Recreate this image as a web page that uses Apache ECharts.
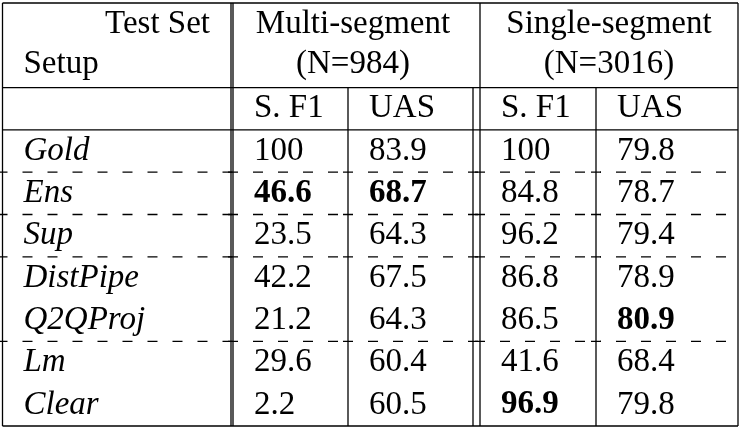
<!DOCTYPE html>
<html>
<head>
<meta charset="utf-8">
<script src="https://cdn.jsdelivr.net/npm/echarts@6/dist/echarts.min.js"></script>
<style>
  html, body { margin: 0; padding: 0; background: #fff; }
  #chart { width: 741px; height: 432px; }
</style>
</head>
<body>
<div id="chart"></div>
<script>
// table content
const methods = ["Gold", "Ens", "Sup", "DistPipe", "Q2QProj", "Lm", "Clear"];
const multiF1 = [100, 46.6, 23.5, 42.2, 21.2, 29.6, 2.2];
const multiUAS = [83.9, 68.7, 64.3, 67.5, 64.3, 60.4, 60.5];
const singleF1 = [100, 84.8, 96.2, 86.8, 86.5, 41.6, 96.9];
const singleUAS = [79.8, 78.7, 79.4, 78.9, 80.9, 68.4, 79.8];
const cornerLabels = ["Test Set", "Setup"];
const groupLabels = [["Multi-segment", "(N=984)"], ["Single-segment", "(N=3016)"]];
const metricLabels = ["S. F1", "UAS", "S. F1", "UAS"];
// best result per column: [method, column index]
const bestCells = [["Ens", 0], ["Ens", 1], ["Clear", 2], ["Q2QProj", 3]];
// a dashed rule follows these rows
const groupEnds = ["Gold", "Ens", "Sup", "Q2QProj"];

// layout (x in axis units, rows in y units)
const LEFT = 2.5, RIGHT = 738;
const COL0_R = 231, COL1_L = 233, COL2_L = 348, COL2_R = 473, COL3_L = 480, COL4_L = 596;
const PAD = 21;
const HEAD_ROWS = 3;
const NROWS = HEAD_ROWS + methods.length;
const HEAD_Y = [0.51, 1.455];
const FONT = "'Liberation Serif', 'Times New Roman', serif";
const FS = 33;

const valueCols = [multiF1, multiUAS, singleF1, singleUAS];
const colLeft = [COL1_L, COL2_L, COL3_L, COL4_L];

const cells = [];
cells.push({ x: COL0_R - PAD, y: HEAD_Y[0], text: cornerLabels[0], align: "right" });
cells.push({ x: LEFT + PAD, y: HEAD_Y[1], text: cornerLabels[1], align: "left" });
groupLabels.forEach((g, i) => {
  const mid = i === 0 ? (COL1_L + COL2_R) / 2 : (COL3_L + RIGHT) / 2;
  cells.push({ x: mid, y: HEAD_Y[0], text: g[0], align: "center" });
  cells.push({ x: mid, y: HEAD_Y[1], text: g[1], align: "center" });
});
metricLabels.forEach((m, c) => {
  cells.push({ x: colLeft[c] + PAD, y: 2.5, text: m, align: "left" });
});
methods.forEach((name, r) => {
  const y = HEAD_ROWS + r + 0.5;
  cells.push({ x: LEFT + PAD, y: y, text: name, align: "left", italic: true });
  valueCols.forEach((col, c) => {
    const bold = bestCells.some((b) => b[0] === name && b[1] === c);
    cells.push({ x: colLeft[c] + PAD, y: y, text: String(col[r]), align: "left", bold: bold });
  });
});

// rules
const rules = [];
[0, 2, HEAD_ROWS, NROWS].forEach((y) => rules.push({ x1: LEFT, y1: y, x2: RIGHT, y2: y }));
[LEFT, COL0_R, COL1_L, COL3_L, RIGHT].forEach((x) => rules.push({ x1: x, y1: 0, x2: x, y2: NROWS }));
[COL2_L, COL2_R, COL4_L].forEach((x) => rules.push({ x1: x, y1: 2, x2: x, y2: NROWS }));
const spans = [[LEFT, COL0_R], [COL1_L, COL2_L], [COL2_L, COL2_R], [COL3_L, COL4_L], [COL4_L, RIGHT]];
groupEnds.forEach((name) => {
  const y = HEAD_ROWS + methods.indexOf(name) + 1;
  spans.forEach((s) => rules.push({ x1: s[0] - 5, y1: y, x2: s[1] + 5, y2: y, dashed: true }));
});

const chart = echarts.init(document.getElementById("chart"));
chart.setOption({
  animation: false,
  backgroundColor: "#fff",
  grid: { left: 0, right: 0, top: 3, bottom: 6 },
  xAxis: { type: "value", min: 0, max: 741, show: false },
  yAxis: { type: "value", min: 0, max: NROWS, inverse: true, show: false },
  series: [
    {
      type: "custom",
      silent: true,
      clip: false,
      data: rules.map((l) => [l.x1, l.y1, l.x2, l.y2]),
      encode: { x: [0, 2], y: [1, 3] },
      renderItem: function (params, api) {
        const l = rules[params.dataIndex];
        const p1 = api.coord([api.value(0), api.value(1)]);
        const p2 = api.coord([api.value(2), api.value(3)]);
        return {
          type: "line",
          shape: { x1: p1[0], y1: p1[1], x2: p2[0], y2: p2[1] },
          style: {
            stroke: "#000",
            lineWidth: 1.3,
            lineDash: l.dashed ? [10, 15] : null
          }
        };
      }
    },
    {
      type: "custom",
      silent: true,
      clip: false,
      data: cells.map((c) => [c.x, c.y]),
      renderItem: function (params, api) {
        const c = cells[params.dataIndex];
        const p = api.coord([api.value(0), api.value(1)]);
        return {
          type: "text",
          x: p[0],
          y: p[1],
          style: {
            text: c.text,
            fill: "#000",
            font: (c.italic ? "italic " : "") + (c.bold ? "bold " : "") + FS + "px " + FONT,
            align: c.align,
            verticalAlign: "middle"
          }
        };
      }
    }
  ]
});
</script>
</body>
</html>
